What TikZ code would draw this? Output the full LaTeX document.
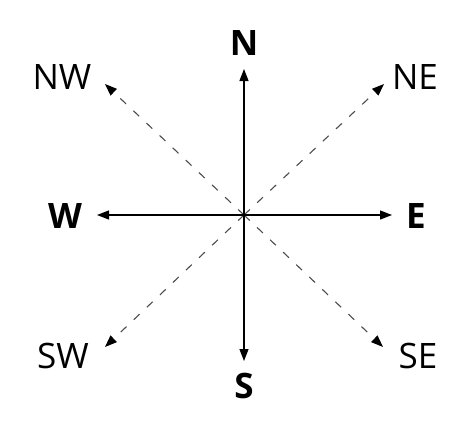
\documentclass[tikz,border=0pt]{standalone}
\usepackage{fontspec}
\setmainfont{Open Sans}
\usetikzlibrary{arrows.meta}
\begin{document}
\begin{tikzpicture}[x=1pt,y=-1pt,
  lbl/.style={font=\fontsize{35}{40}\selectfont, inner sep=0pt, anchor=center},
  blbl/.style={lbl, font=\fontsize{35}{40}\selectfont\bfseries},
  solidarrow/.style={line width=1.3pt, -{Triangle[length=12pt,width=9pt]}},
  dasharrow/.style={line width=1.1pt, draw=black!70, dash pattern=on 8pt off 10pt, -{Triangle[length=12pt,width=9pt,color=black]}}]
\useasboundingbox (0,0) rectangle (475,432);
\coordinate (C) at (244,215);
\coordinate (tN) at (244,69);
\coordinate (tS) at (244,361);
\coordinate (tW) at (97,215);
\coordinate (tE) at (392,215);
\coordinate (tNE) at (384,84);
\coordinate (tNW) at (105,84);
\coordinate (tSW) at (105,347);
\coordinate (tSE) at (383,347);
\node[blbl] (N) at (244,43) {N};
\node[blbl] (S) at (244,386) {S};
\node[blbl] (W) at (65,216) {W};
\node[blbl] (E) at (416,216) {E};
\node[lbl] (NE) at (415,77) {NE};
\node[lbl] (NW) at (62,77) {NW};
\node[lbl] (SW) at (63,356) {SW};
\node[lbl] (SE) at (418,356) {SE};
\draw[dasharrow] (C) -- (tNE);
\draw[dasharrow] (C) -- (tNW);
\draw[dasharrow] (C) -- (tSW);
\draw[dasharrow] (C) -- (tSE);
\draw[solidarrow] (C) -- (tN);
\draw[solidarrow] (C) -- (tS);
\draw[solidarrow] (C) -- (tW);
\draw[solidarrow] (C) -- (tE);
\end{tikzpicture}
\end{document}
